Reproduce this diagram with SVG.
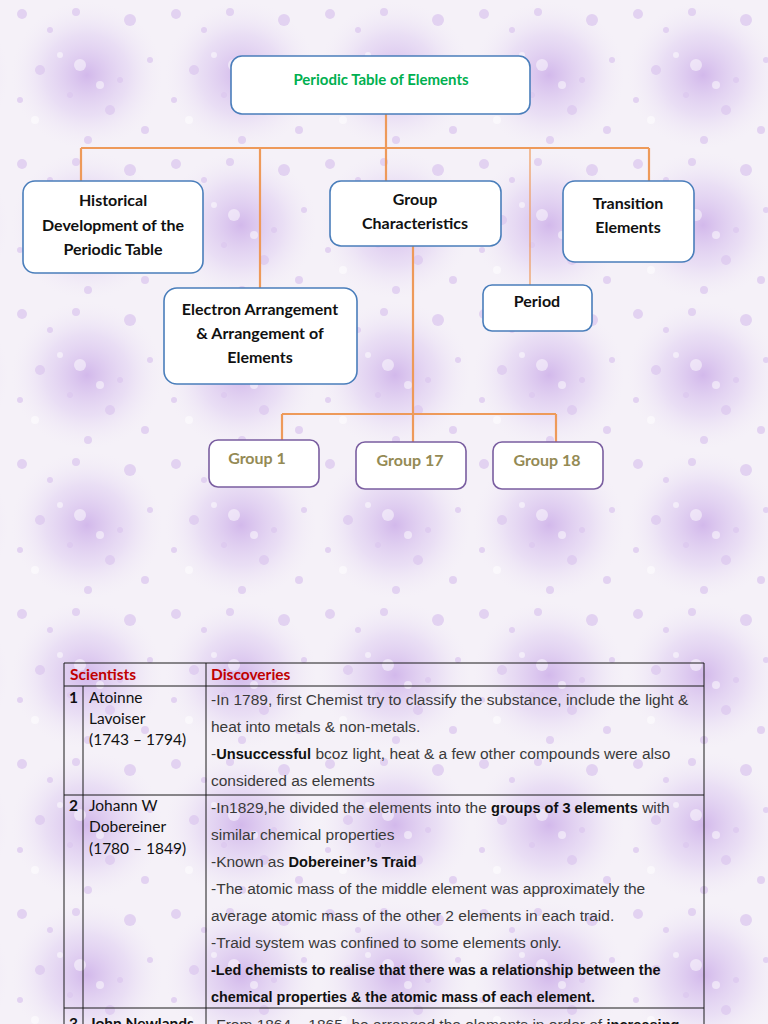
<svg xmlns="http://www.w3.org/2000/svg" width="768" height="1024" viewBox="0 0 768 1024">
<defs>
<radialGradient id="blob" cx="50%" cy="50%" r="50%">
<stop offset="0" stop-color="#c09ae4" stop-opacity="0.65"/>
<stop offset="0.55" stop-color="#d4bcee" stop-opacity="0.35"/>
<stop offset="1" stop-color="#eee6f5" stop-opacity="0"/>
</radialGradient>
<pattern id="bg" x="10" y="0" width="154" height="150" patternUnits="userSpaceOnUse">
<rect width="154" height="150" fill="#f5f1f8"/>
<ellipse cx="77" cy="75" rx="76" ry="74" fill="url(#blob)"/>
<g fill="#dcc8ef" opacity="0.75">
<circle cx="12" cy="14" r="5"/><circle cx="40" cy="30" r="3"/><circle cx="66" cy="12" r="4"/>
<circle cx="120" cy="20" r="6"/><circle cx="140" cy="60" r="3"/><circle cx="30" cy="70" r="5"/>
<circle cx="60" cy="95" r="3"/><circle cx="100" cy="110" r="5"/><circle cx="135" cy="130" r="4"/>
<circle cx="10" cy="100" r="3"/><circle cx="78" cy="140" r="4"/><circle cx="110" cy="80" r="3"/>
</g>
<g fill="#ffffff" opacity="0.5">
<circle cx="70" cy="65" r="6"/><circle cx="90" cy="85" r="4"/><circle cx="50" cy="55" r="3"/><circle cx="25" cy="120" r="4"/>
</g>
</pattern>
<style>
.box{fill:#ffffff;stroke:#4a7ebb;stroke-width:1.6}
.gbox{fill:#ffffff;stroke:#7a5ea0;stroke-width:1.6}
.lbl{font-family:Lato,"Liberation Sans",sans-serif;font-weight:700;font-size:16px;fill:#111;text-anchor:middle}
.glbl{font-family:Lato,"Liberation Sans",sans-serif;font-weight:700;font-size:16px;fill:#948a54;text-anchor:middle}
.con{stroke:#ee9a5a;stroke-width:2.2;fill:none}
.thin{stroke:#ee9a5a;stroke-width:1.2;fill:none}
.tb{stroke:#1a1a1a;stroke-width:1;fill:none}
.hd{font-family:Lato,"Liberation Sans",sans-serif;font-weight:700;font-size:15.5px;fill:#c00000}
.nm{font-family:Lato,"Liberation Sans",sans-serif;font-size:15.5px;fill:#111}
.nb{font-family:Lato,"Liberation Sans",sans-serif;font-weight:700;font-size:15.5px;fill:#111}
.ds{font-family:"Liberation Sans",Arial,sans-serif;font-size:15.5px;fill:#3a3a3a}
.b{font-weight:700;fill:#111;font-size:14.6px}
.bl{font-weight:700;fill:#111;font-size:14.4px}
</style>
</defs>
<rect width="768" height="1024" fill="url(#bg)"/>

<g id="connectors">
<path class="con" d="M386 114 V148 M81 148 H649 M81 148 V182 M386 148 V182 M649 148 V182"/>
<path class="con" d="M260 148 V289"/>
<path class="thin" d="M530 148 V286"/>
<path class="con" d="M413 246 V414 M282 414 H556 M282 414 V441 M413 414 V443 M556 414 V443"/>
</g>

<g id="node-root">
<rect class="box" x="231" y="56" width="299" height="58" rx="11"/>
<text class="lbl" x="381" y="85" style="fill:#00b050;font-size:15px">Periodic Table of Elements</text>
</g>
<g id="node-historical">
<rect class="box" x="23" y="181" width="180" height="92" rx="12"/>
<text class="lbl" x="113" y="206">Historical</text>
<text class="lbl" x="113" y="231">Development of the</text>
<text class="lbl" x="113" y="255">Periodic Table</text>
</g>
<g id="node-group-char">
<rect class="box" x="330" y="181" width="171" height="65" rx="11"/>
<text class="lbl" x="415" y="205">Group</text>
<text class="lbl" x="415" y="229">Characteristics</text>
</g>
<g id="node-transition">
<rect class="box" x="563" y="181" width="131" height="81" rx="12"/>
<text class="lbl" x="628" y="209">Transition</text>
<text class="lbl" x="628" y="233">Elements</text>
</g>
<g id="node-electron">
<rect class="box" x="164" y="288" width="193" height="96" rx="13"/>
<text class="lbl" x="260" y="315">Electron Arrangement</text>
<text class="lbl" x="260" y="339">&amp; Arrangement of</text>
<text class="lbl" x="260" y="363">Elements</text>
</g>
<g id="node-period">
<rect class="box" x="483" y="285" width="109" height="46" rx="9"/>
<text class="lbl" x="537" y="307">Period</text>
</g>
<g id="node-group1">
<rect class="gbox" x="209" y="440" width="110" height="47" rx="9"/>
<text class="glbl" x="257" y="464">Group 1</text>
</g>
<g id="node-group17">
<rect class="gbox" x="356" y="442" width="110" height="47" rx="9"/>
<text class="glbl" x="410" y="466">Group 17</text>
</g>
<g id="node-group18">
<rect class="gbox" x="493" y="442" width="110" height="47" rx="9"/>
<text class="glbl" x="547" y="466">Group 18</text>
</g>

<g id="table">
<path class="tb" d="M64 663 H704 M64 686 H704 M64 795 H704 M64 1008 H704 M64 663 V1024 M704 663 V1024 M206 663 V1024 M83 686 V1024"/>
<text class="hd" x="70" y="680">Scientists</text>
<text class="hd" x="211" y="680">Discoveries</text>

<text class="nb" x="69" y="703">1</text>
<text class="nm" x="89" y="703">Atoinne</text>
<text class="nm" x="89" y="724">Lavoiser</text>
<text class="nm" x="89" y="745">(1743 – 1794)</text>
<text class="ds" x="211" y="705">-In 1789, first Chemist try to classify the substance, include the light &amp;</text>
<text class="ds" x="211" y="732">heat into metals &amp; non-metals.</text>
<text class="ds" x="211" y="759">-<tspan class="b">Unsuccessful</tspan> bcoz light, heat &amp; a few other compounds were also</text>
<text class="ds" x="211" y="786">considered as elements</text>

<text class="nb" x="69" y="811">2</text>
<text class="nm" x="89" y="811">Johann W</text>
<text class="nm" x="89" y="832">Dobereiner</text>
<text class="nm" x="89" y="854">(1780 – 1849)</text>
<text class="ds" x="211" y="813">-In1829,he divided the elements into the <tspan class="b">groups of 3 elements</tspan> with</text>
<text class="ds" x="211" y="840">similar chemical properties</text>
<text class="ds" x="211" y="867">-Known as <tspan class="b">Dobereiner’s Traid</tspan></text>
<text class="ds" x="211" y="894">-The atomic mass of the middle element was approximately the</text>
<text class="ds" x="211" y="921">average atomic mass of the other 2 elements in each traid.</text>
<text class="ds" x="211" y="948">-Traid system was confined to some elements only.</text>
<text class="ds bl" x="211" y="975">-Led chemists to realise that there was a relationship between the</text>
<text class="ds bl" x="211" y="1002">chemical properties &amp; the atomic mass of each element.</text>

<text class="nb" x="69" y="1029">3</text>
<text class="nb" x="89" y="1029">John Newlands</text>
<text class="ds" x="211" y="1030">-From 1864 – 1865, he arranged the elements in order of <tspan class="b">increasing</tspan></text>
</g>
</svg>
